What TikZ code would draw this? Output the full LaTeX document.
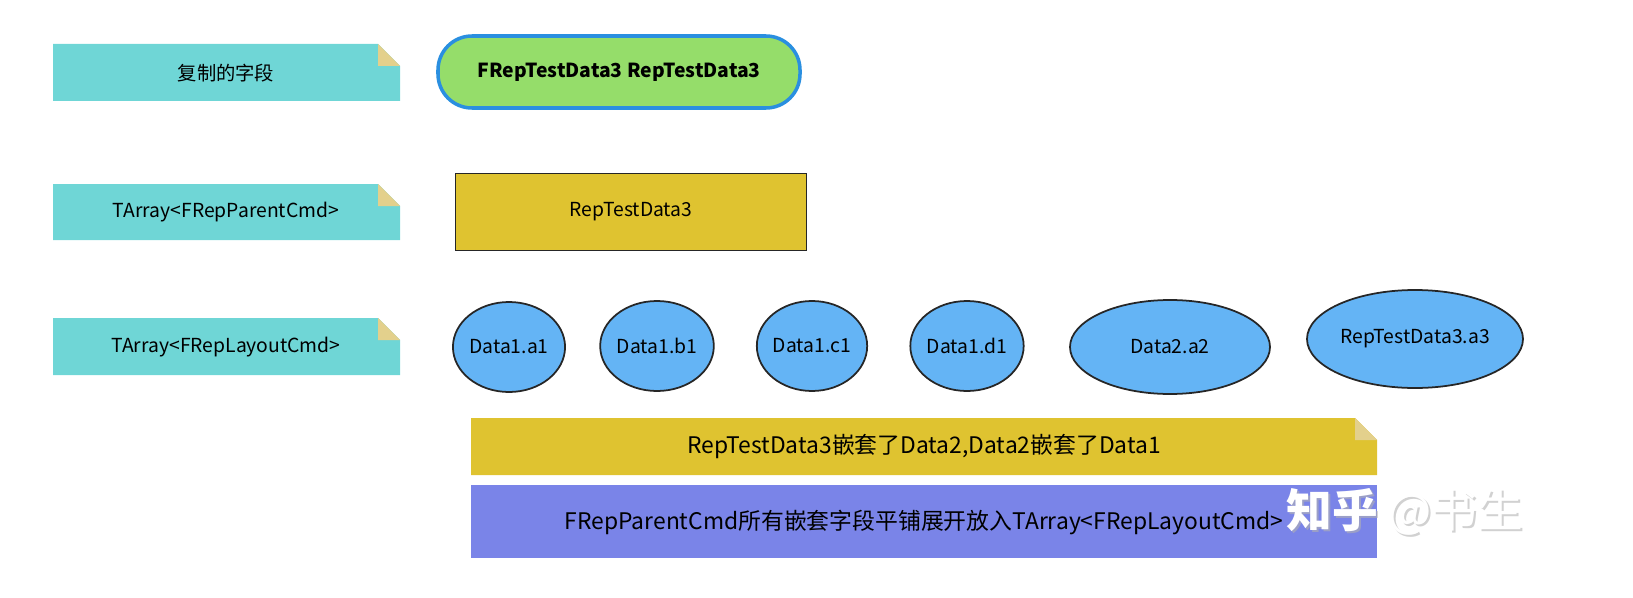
\documentclass[tikz,border=0pt]{standalone}
\usepackage{fontspec}
\usetikzlibrary{shapes.geometric}
\setmainfont{Noto Sans CJK SC}
\begin{document}
\begin{tikzpicture}[x=0.02cm,y=-0.02cm,
  ell/.style={ellipse,draw=black!85,line width=1pt,fill=blue0,inner sep=0pt,font=\fontsize{11}{13}\selectfont},
  fold/.style={fill=fold0}]
\definecolor{teal0}{HTML}{6FD6D6}
\definecolor{fold0}{HTML}{E3D08C}
\definecolor{blue0}{HTML}{64B4F5}
\definecolor{yel0}{HTML}{DFC330}
\definecolor{pur0}{HTML}{7A84E8}
\definecolor{grn0}{HTML}{95DD6A}
\useasboundingbox (0,0) rectangle (1633,598);
\newcommand{\mynote}[5]{%
 \fill[#5] (#1,#2) -- (#3-22,#2) -- (#3,#2+22) -- (#3,#4) -- (#1,#4) -- cycle;
 \fill[fold] (#3-22,#2) -- (#3,#2+22) -- (#3-22,#2+22) -- cycle;}
\mynote{53}{44}{400}{101}{teal0}
\node[font=\fontsize{11}{13}\selectfont] (n1) at (226,73) {复制的字段};
\mynote{53}{184}{400}{240}{teal0}
\node[font=\fontsize{11}{13}\selectfont] (n2) at (226,212) {TArray<FRepParentCmd>};
\mynote{53}{318}{400}{375}{teal0}
\node[font=\fontsize{11}{13}\selectfont] (n3) at (226,347) {TArray<FRepLayoutCmd>};
\node[rectangle,rounded corners=34*0.02cm,fill=grn0,draw={rgb,255:red,42;green,143;blue,224},line width=2pt,minimum width=362*0.02cm,minimum height=72*0.02cm,font=\bfseries\fontsize{11}{13}\selectfont] (g) at (619,72) {FRepTestData3 RepTestData3};
\node[rectangle,fill=yel0,draw=black!85,line width=1pt,minimum width=351*0.02cm,minimum height=77*0.02cm,font=\fontsize{11}{13}\selectfont] (y) at (631,212) {RepTestData3};
\node[ell,minimum width=106*0.02cm,minimum height=90*0.02cm] (a1) at (509,347) {Data1.a1};
\node[ell,minimum width=106*0.02cm,minimum height=90*0.02cm] (b1) at (657,346) {Data1.b1};
\node[ell,minimum width=106*0.02cm,minimum height=90*0.02cm] (c1) at (812,346) {Data1.c1};
\node[ell,minimum width=106*0.02cm,minimum height=90*0.02cm] (d1) at (967,346) {Data1.d1};
\node[ell,minimum width=200*0.02cm,minimum height=94*0.02cm] (a2) at (1170,347) {Data2.a2};
\node[ell,minimum width=216*0.02cm,minimum height=98*0.02cm] (a3) at (1415,339) {RepTestData3.a3};
\mynote{471}{418}{1377}{475}{yel0}
\node[font=\fontsize{13}{15}\selectfont] (t1) at (924,447) {RepTestData3嵌套了Data2,Data2嵌套了Data1};
\fill[pur0] (471,485) rectangle (1377,558);
\node[font=\fontsize{13}{15}\selectfont] (t2) at (924,522) {FRepParentCmd所有嵌套字段平铺展开放入TArray<FRepLayoutCmd>};
\node[font=\bfseries\fontsize{26}{30}\selectfont,text=black!30,opacity=0.6] (ws) at (1407,514) {知乎 \textmd{@书生}};
\node[font=\bfseries\fontsize{26}{30}\selectfont,text=white] (w) at (1405,512) {知乎 \textmd{@书生}};
\end{tikzpicture}
\end{document}
